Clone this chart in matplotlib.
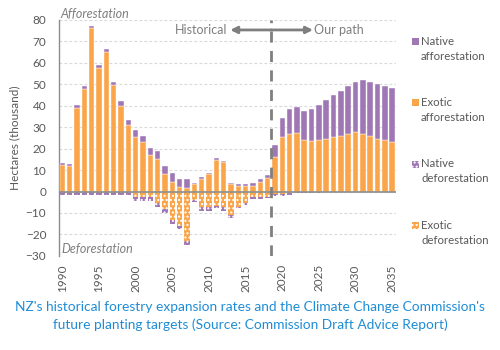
import matplotlib
matplotlib.use("Agg")
import matplotlib.pyplot as plt
from matplotlib.patches import Rectangle
import numpy as np

plt.rcParams['font.family'] = ['Lato', 'DejaVu Sans']
plt.rcParams['hatch.linewidth'] = 1.0

years = list(range(1990, 2036))
exotic_aff = [12.3, 11.8, 39.1, 48.0, 76.3, 57.6, 65.0, 49.5, 39.7, 31.0,
              25.6, 23.2, 17.0, 15.2, 8.1, 4.5, 2.0, 1.7, 3.6, 5.8,
              8.1, 14.8, 13.8, 3.7, 2.8, 2.8, 2.8, 4.3, 6.5, 16.2,
              25.4, 26.9, 27.5, 23.8, 23.6, 23.8, 24.6, 25.4, 26.1, 26.9,
              27.7, 26.6, 25.8, 24.7, 24.1, 23.3]
native_aff = [0.8, 1.0, 1.2, 1.2, 1.1, 1.3, 1.5, 1.6, 2.4, 2.2,
              3.2, 2.9, 3.2, 3.7, 3.8, 4.2, 3.9, 4.2, 0.4, 0.8,
              0.6, 0.7, 0.6, 0.3, 0.5, 0.5, 1.2, 1.5, 1.3, 5.3,
              8.9, 11.6, 11.9, 13.8, 15.0, 16.7, 17.9, 19.5, 20.7, 22.2,
              23.5, 25.3, 25.2, 25.5, 25.0, 25.1]
exotic_def = [0, 0, 0, 0, 0, 0, 0, 0, 0, 0,
              -2.5, -2.5, -2.5, -5.3, -8.3, -13.5, -16.0, -23.2, -3.8, -7.0,
              -7.4, -6.7, -7.4, -11.1, -7.0, -5.5, -2.5, -2.5, -2.4, -1.1,
              -1.0, -0.9, 0, 0, 0, 0, 0, 0, 0, 0,
              0, 0, 0, 0, 0, 0]
native_def = [-1.8, -1.8, -1.8, -1.8, -1.8, -1.8, -1.8, -1.8, -1.8, -1.8,
              -1.9, -1.9, -1.9, -1.9, -1.8, -1.6, -1.6, -1.7, -1.2, -1.9,
              -1.9, -1.2, -1.7, -1.3, -0.8, -0.7, -0.8, -0.8, -0.8, -0.9,
              -0.9, -0.9, -0.9, -0.9, -0.9, -0.9, 0, 0, 0, 0,
              0, 0, 0, 0, 0, 0]
legend_labels = ["Native\nafforestation", "Exotic\nafforestation",
                 "Native\ndeforestation", "Exotic\ndeforestation"]
yticks = list(range(-30, 81, 10))
xticks = list(range(1990, 2036, 5))

ORANGE = '#FBA54A'
PURPLE = '#A077B5'
GRAY = '#595959'
LGRAY = '#7F7F7F'

fig = plt.figure(figsize=(5, 3.5), dpi=100)
ax = fig.add_axes([0.1174, 0.269, 0.7916 - 0.1174, 0.943 - 0.269])

w = 0.74
ax.bar(years, exotic_aff, width=w, color=ORANGE, edgecolor='white', linewidth=0.3, zorder=3)
ax.bar(years, native_aff, width=w, bottom=exotic_aff, color=PURPLE, edgecolor='white', linewidth=0.3, zorder=3)
ax.bar(years, exotic_def, width=w, color=ORANGE, edgecolor='white', linewidth=0, hatch='....', zorder=3)
ax.bar(years, native_def, width=w, bottom=exotic_def, color=PURPLE, edgecolor='white', linewidth=0, hatch='....', zorder=3)

ax.set_xlim(1989.5, 2035.5)
ax.set_ylim(-30, 80)
ax.set_yticks(yticks)
ax.set_xticks(xticks)
ax.set_xticklabels([str(x) for x in xticks], rotation=90)
ax.tick_params(axis='y', length=0, pad=9, labelsize=8.5, labelcolor=GRAY)
ax.tick_params(axis='x', length=0, pad=6, labelsize=8.5, labelcolor=GRAY)
ax.grid(axis='y', color='#D9D9D9', linestyle=(0, (2.5, 2)), linewidth=0.8, zorder=0)
for s in ['top', 'right', 'bottom']:
    ax.spines[s].set_visible(False)
ax.spines['left'].set_color('#8C8C8C')
ax.spines['left'].set_linewidth(1.0)
ax.axhline(0, color='#8C8C8C', linewidth=1.2, zorder=4)
ax.set_ylabel("Hectares (thousand)", fontsize=8.5, color=GRAY, labelpad=4)

# dashed divider
ax.axvline(2018.5, color=LGRAY, linestyle=(0, (4, 3)), linewidth=2.0, zorder=5)

# annotations
arrow_y = 1 - 10 / 236
ax.annotate("", xy=(2012.9, arrow_y), xycoords=('data', 'axes fraction'),
            xytext=(2018.5, arrow_y), textcoords=('data', 'axes fraction'),
            arrowprops=dict(arrowstyle='-|>', color=LGRAY, lw=2.0, mutation_scale=10,
                            shrinkA=0, shrinkB=0),
            annotation_clip=False)
ax.annotate("", xy=(2024.2, arrow_y), xycoords=('data', 'axes fraction'),
            xytext=(2018.5, arrow_y), textcoords=('data', 'axes fraction'),
            arrowprops=dict(arrowstyle='-|>', color=LGRAY, lw=2.0, mutation_scale=10,
                            shrinkA=0, shrinkB=0),
            annotation_clip=False)
fig.text(227 / 500, 1 - 30 / 350, "Historical", ha='right', va='center', fontsize=9, color=LGRAY)
fig.text(314 / 500, 1 - 30 / 350, "Our path", ha='left', va='center', fontsize=9, color=LGRAY)
fig.text(60 / 500, 1 - 14 / 350, "Afforestation", ha='left', va='center', fontsize=9, color=LGRAY, style='italic')
fig.text(61 / 500, 1 - 249 / 350, "Deforestation", ha='left', va='center', fontsize=9, color=LGRAY, style='italic')

# legend
leg_y = [41.7, 102.7, 164.0, 225.7]
leg_col = [PURPLE, ORANGE, PURPLE, ORANGE]
leg_hatch = [None, None, '....', '....']
for yy, lab, col, h in zip(leg_y, legend_labels, leg_col, leg_hatch):
    r = Rectangle((411.5 / 500, 1 - (yy + 3.5) / 350), 7 / 500, 7 / 350,
                  transform=fig.transFigure, facecolor=col,
                  edgecolor='white' if h else col, linewidth=0, hatch=h)
    fig.patches.append(r)
    fig.text(421 / 500, 1 - (yy - 6) / 350, lab, ha='left', va='top', fontsize=8.2,
             color=GRAY, linespacing=1.45)

# caption
fig.text(0.5, 1 - 307 / 350,
         "NZ's historical forestry expansion rates and the Climate Change Commission's",
         ha='center', va='center', fontsize=9.9, color='#1F8DD6')
fig.text(0.5, 1 - 325 / 350,
         "future planting targets (Source: Commission Draft Advice Report)",
         ha='center', va='center', fontsize=9.9, color='#1F8DD6')

fig.savefig("out.png", dpi=100)
